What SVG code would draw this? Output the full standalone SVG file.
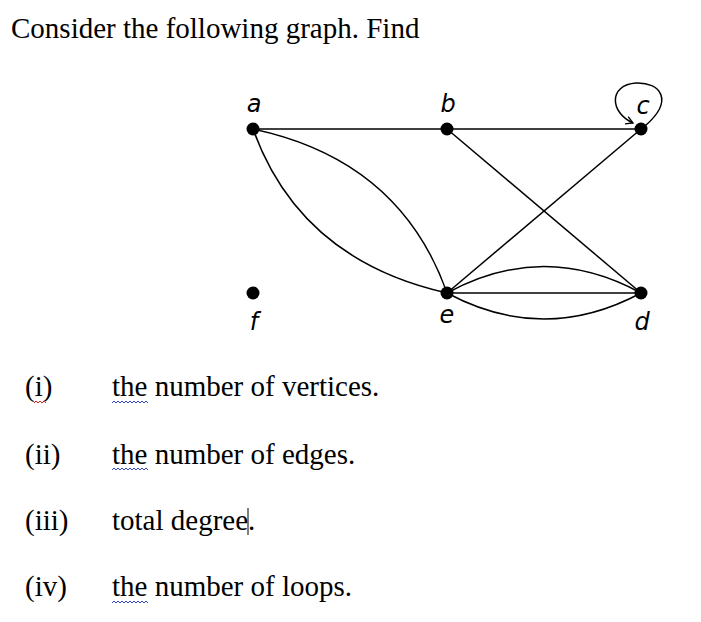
<svg xmlns="http://www.w3.org/2000/svg" width="701" height="622" viewBox="0 0 701 622">
<style>
.t{font-family:"Liberation Serif",serif;font-size:29px;fill:#000}
.l{font-family:"DejaVu Sans","Liberation Sans",sans-serif;font-size:24px;fill:#000}
.e{fill:none;stroke:#000;stroke-width:1.5}
.sq{fill:none;stroke:#3344cc;stroke-width:1}
</style>
<defs><marker id="ar" markerWidth="10" markerHeight="10" refX="8" refY="5" orient="auto" markerUnits="userSpaceOnUse"><path d="M1,1 L8,5 L1,9" fill="none" stroke="#000" stroke-width="1.3"/></marker></defs>
<rect width="701" height="622" fill="#fff"/>
<text class="t" x="11" y="38">Consider the following graph. Find</text>
<g id="edges">
<line class="e" x1="253" y1="129" x2="641" y2="129"/>
<line class="e" x1="447" y1="129" x2="641" y2="293"/>
<line class="e" x1="641" y1="129" x2="447" y2="293"/>
<line class="e" x1="447" y1="293" x2="641" y2="293"/>
<path class="e" d="M253,129 Q400,160 447,293"/>
<path class="e" d="M253,129 Q300,260 447,293"/>
<path class="e" d="M447,293 Q544,240 641,293"/>
<path class="e" d="M447,293 Q544,345 641,293"/>
<path class="e" d="M645,126 C675,100 660,82 636,83 C608,85 610,113 633,123" marker-end="url(#ar)"/>
</g>
<g id="a"><circle cx="253" cy="129" r="6.5"/><text class="l" x="254" y="112" text-anchor="middle" font-style="italic">a</text></g>
<g id="b"><circle cx="447" cy="129" r="6.5"/><text class="l" x="448" y="112" text-anchor="middle" font-style="italic">b</text></g>
<g id="c"><circle cx="641" cy="129" r="6.5"/><text class="l" x="643" y="114" text-anchor="middle" font-style="italic">c</text></g>
<g id="f"><circle cx="253" cy="293" r="6.5"/><text class="l" x="254" y="330" text-anchor="middle" font-style="italic">f</text></g>
<g id="e"><circle cx="447" cy="293" r="6.5"/><text class="l" x="447" y="323" text-anchor="middle" font-style="italic">e</text></g>
<g id="d"><circle cx="641" cy="293" r="6.5"/><text class="l" x="642" y="330" text-anchor="middle" font-style="italic">d</text></g>
<text class="t" x="25" y="396">(i)</text><text class="t" x="112" y="396">the number of vertices.</text>
<text class="t" x="25" y="464">(ii)</text><text class="t" x="112" y="464">the number of edges.</text>
<text class="t" x="25" y="530">(iii)</text><text class="t" x="112" y="530">total degree.</text>
<text class="t" x="25" y="596">(iv)</text><text class="t" x="112" y="596">the number of loops.</text>
<path fill="none" stroke="#cc2222" stroke-width="1" d="M34,403 l2,-2 l2,2 l2,-2 l2,2 l2,-2 l2,2"/>
<path class="sq" d="M112,403 l2,-2 l2,2 l2,-2 l2,2 l2,-2 l2,2 l2,-2 l2,2 l2,-2 l2,2 l2,-2 l2,2 l2,-2 l2,2 l2,-2 l2,2 l2,-2 l2,2"/>
<path class="sq" d="M112,470 l2,-2 l2,2 l2,-2 l2,2 l2,-2 l2,2 l2,-2 l2,2 l2,-2 l2,2 l2,-2 l2,2 l2,-2 l2,2 l2,-2 l2,2 l2,-2 l2,2"/>
<path class="sq" d="M112,603 l2,-2 l2,2 l2,-2 l2,2 l2,-2 l2,2 l2,-2 l2,2 l2,-2 l2,2 l2,-2 l2,2 l2,-2 l2,2 l2,-2 l2,2 l2,-2 l2,2"/>
<line x1="248" y1="508" x2="248" y2="535" stroke="#000" stroke-width="1"/>
</svg>
